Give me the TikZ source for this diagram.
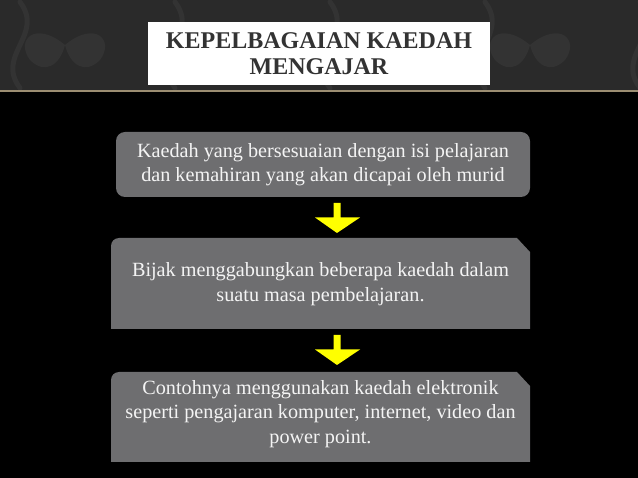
\documentclass[tikz,border=0pt]{standalone}
\usepackage{fontspec}
\setmainfont{Liberation Serif}
\begin{document}
\begin{tikzpicture}[x=1pt,y=-1pt,
  box/.style={fill=boxgrey,text=boxtextcol,align=center,font=\fontsize{20.2}{24.5}\selectfont},
  boxtext/.style={text=boxtextcol,align=center,font=\fontsize{20.2}{24.5}\selectfont},
  arr/.style={fill=arrowyellow,draw=none}]
\definecolor{boxgrey}{HTML}{6E6E70}
\definecolor{boxtextcol}{HTML}{F4F4F4}
\definecolor{arrowyellow}{HTML}{FFFF00}
\definecolor{headbg}{HTML}{2A2A2A}
\definecolor{swirl}{HTML}{333333}
\definecolor{goldline}{HTML}{9C8E72}
\definecolor{titletext}{HTML}{333333}
\useasboundingbox (0,0) rectangle (638,478);
\fill[black] (0,0) rectangle (638,478);
\fill[headbg] (0,0) rectangle (638,91);
% faint damask-like swirls
\foreach \cx in {20,175,330,485,640} {
  \draw[swirl,line width=5pt,line cap=round] (\cx,88) .. controls (\cx-25,55) and (\cx+25,35) .. (\cx,2);
  \fill[swirl] (\cx+45,45) .. controls (\cx+75,20) and (\cx+95,40) .. (\cx+80,60) .. controls (\cx+65,75) and (\cx+50,65) .. cycle;
  \fill[swirl] (\cx+45,45) .. controls (\cx+15,20) and (\cx-5,40) .. (\cx+10,60) .. controls (\cx+25,75) and (\cx+40,65) .. cycle;
}
\fill[goldline] (0,90.5) rectangle (638,92);
% title
\node[fill=white,minimum width=342pt,minimum height=63pt,inner sep=0pt,
  text=titletext,align=center,font=\bfseries\fontsize{24}{26.5}\selectfont]
  (title) at (319,53.5) {KEPELBAGAIAN KAEDAH\\MENGAJAR};
\path[use as bounding box] (0,0) rectangle (638,478);
% box 1 rounded
\node[box,rounded corners=9pt,minimum width=414pt,minimum height=65pt,inner sep=0pt]
  (b1) at (323,164.5) {Kaedah yang bersesuaian dengan isi pelajaran\\dan kemahiran yang akan dicapai oleh murid};
% box 2: top-left rounded, top-right snipped
\fill[boxgrey] (111,329) -- (111,246) [rounded corners=8pt] -- (111,238) [sharp corners] -- (517,238) -- (530,252) -- (530,329) -- cycle;
\node[boxtext] (b2) at (320.5,284) {Bijak menggabungkan beberapa kaedah dalam\\suatu masa pembelajaran.};
% box 3
\fill[boxgrey] (111,462) -- (111,380) [rounded corners=8pt] -- (111,372) [sharp corners] -- (517,372) -- (530,386) -- (530,462) -- cycle;
\node[boxtext] (b3) at (320.5,414) {Contohnya menggunakan kaedah elektronik\\seperti pengajaran komputer, internet, video dan\\power point.};
% arrows
\foreach \ay in {203,335} {
  \fill[arr] (333.5,\ay) -- (340.5,\ay) -- (340.5,\ay+14.5) -- (360,\ay+14.5) -- (337,\ay+30) -- (315,\ay+14.5) -- (333.5,\ay+14.5) -- cycle;
}
\end{tikzpicture}
\end{document}
